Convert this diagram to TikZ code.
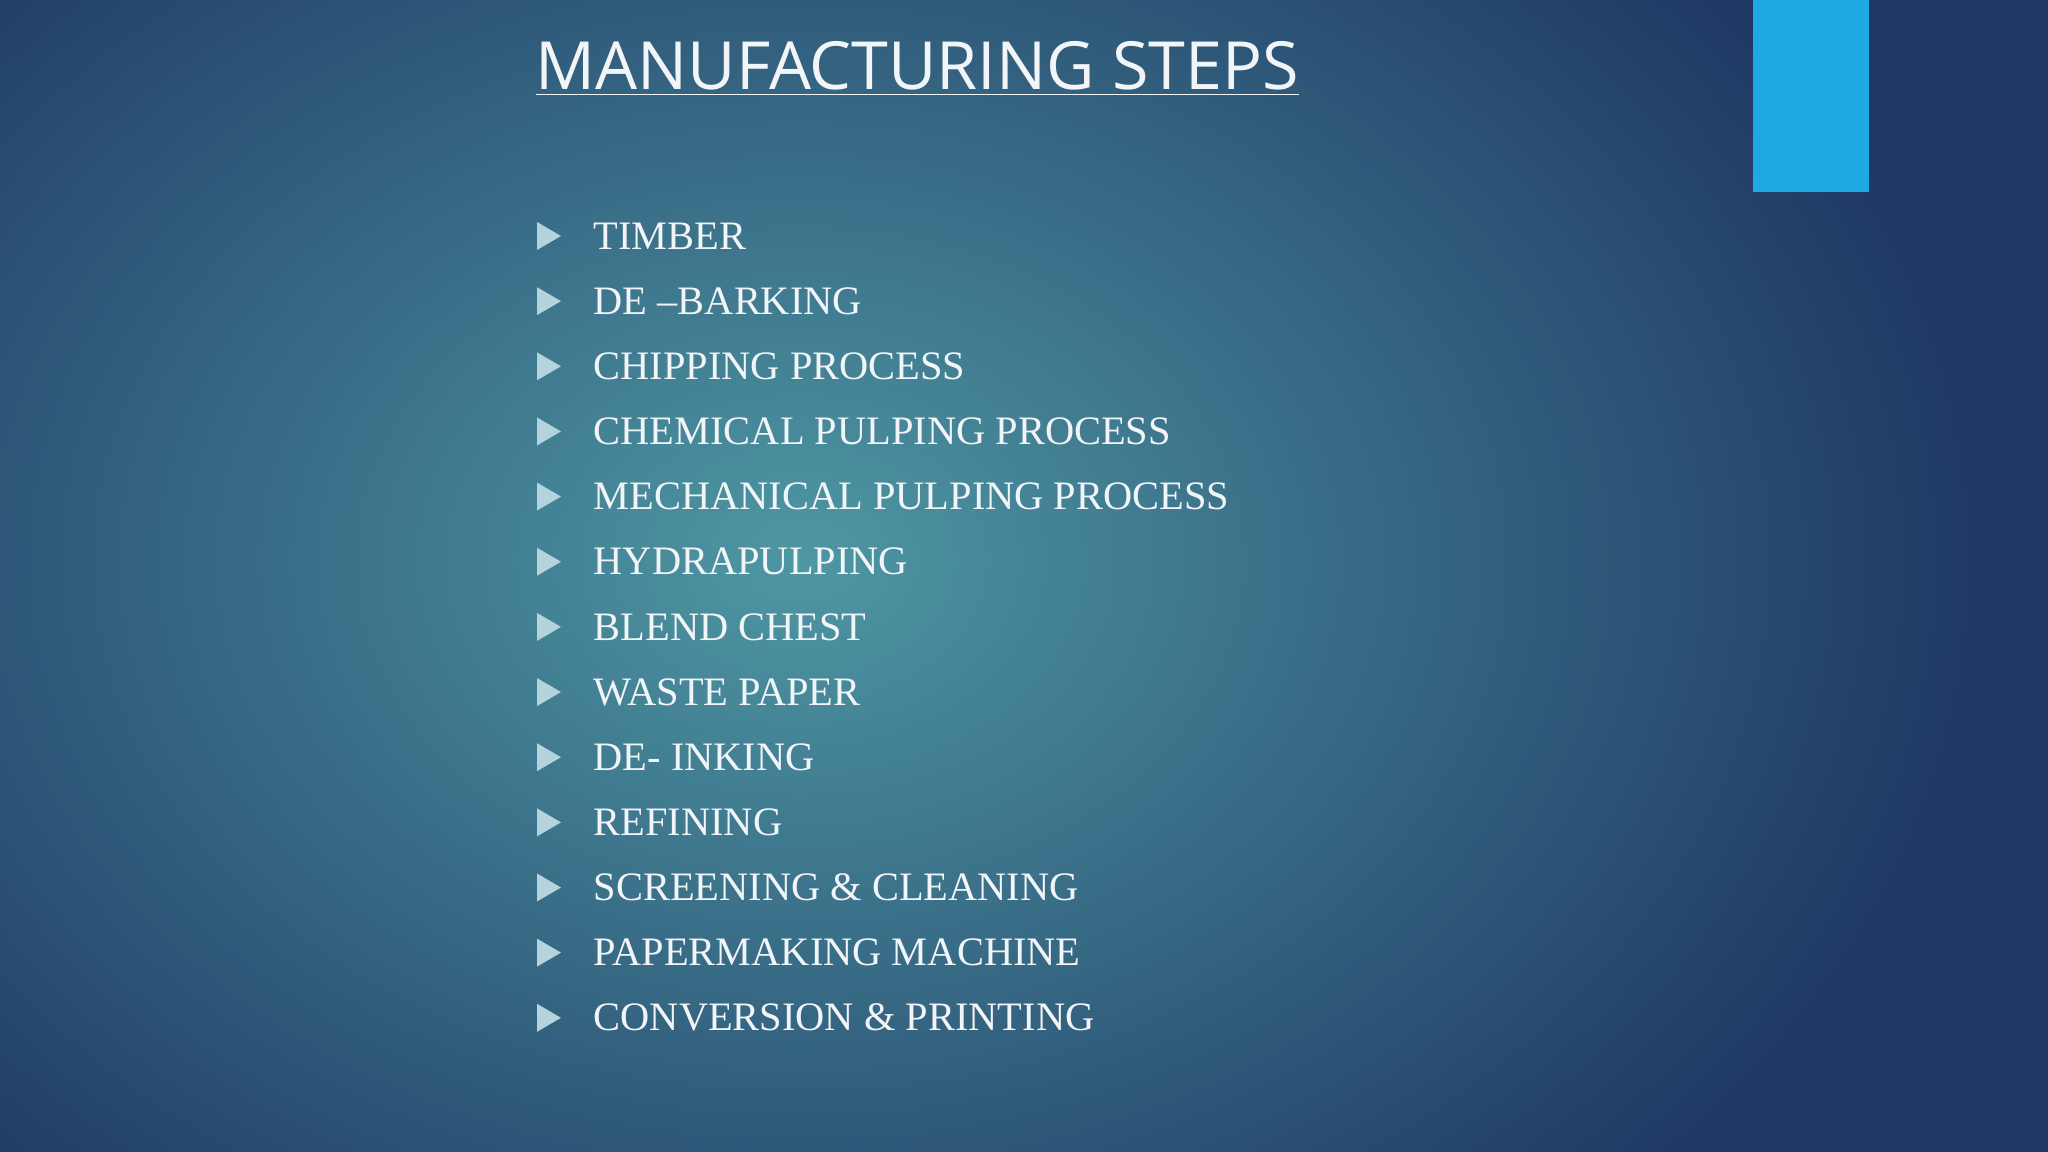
\documentclass[tikz,border=0pt]{standalone}
\usepackage{fontspec}
\setmainfont{Liberation Serif}
\newfontfamily\titlefont{Open Sans}
\definecolor{bgin}{HTML}{4E97A3}
\definecolor{bgout}{HTML}{1E3763}
\definecolor{tabblue}{HTML}{1FA9E3}
\definecolor{bullet}{HTML}{B5D3DC}
\definecolor{txt}{HTML}{F2F5F7}
\begin{document}
\begin{tikzpicture}[x=1cm,y=1cm,
  item/.style={anchor=west,text=txt,font=\fontsize{11.5pt}{14pt}\selectfont,inner sep=0pt},
  tri/.style={fill=bullet,draw=none}]
\useasboundingbox (0,0) rectangle (20.48,-11.52);
\fill[bgout] (0,0) rectangle (20.48,-11.52);
\begin{scope}
\clip (0,0) rectangle (20.48,-11.52);
\shade[inner color=bgin,outer color=bgout] (8.0,-5.6) ellipse (12 and 9);
\end{scope}
\fill[tabblue] (17.53,0) rectangle (18.69,-1.92);
\node[anchor=west,inner sep=0pt,text=txt,font=\titlefont\fontsize{18.9pt}{22pt}\selectfont] (title) at (5.35,-0.69) {\underline{MANUFACTURING STEPS}};
\foreach \t [count=\i] in {TIMBER,DE --BARKING,CHIPPING PROCESS,CHEMICAL PULPING PROCESS,MECHANICAL PULPING PROCESS,HYDRAPULPING,BLEND CHEST,WASTE PAPER,DE- INKING,REFINING,SCREENING \& CLEANING,PAPERMAKING MACHINE,CONVERSION \& PRINTING}{
  \pgfmathsetmacro{\yy}{-2.36-(\i-1)*0.6515}
  \fill[tri] (5.37,\yy+0.14) -- (5.61,\yy) -- (5.37,\yy-0.14) -- cycle;
  \node[item] (it\i) at (5.93,\yy) {\t};
}
\end{tikzpicture}
\end{document}
